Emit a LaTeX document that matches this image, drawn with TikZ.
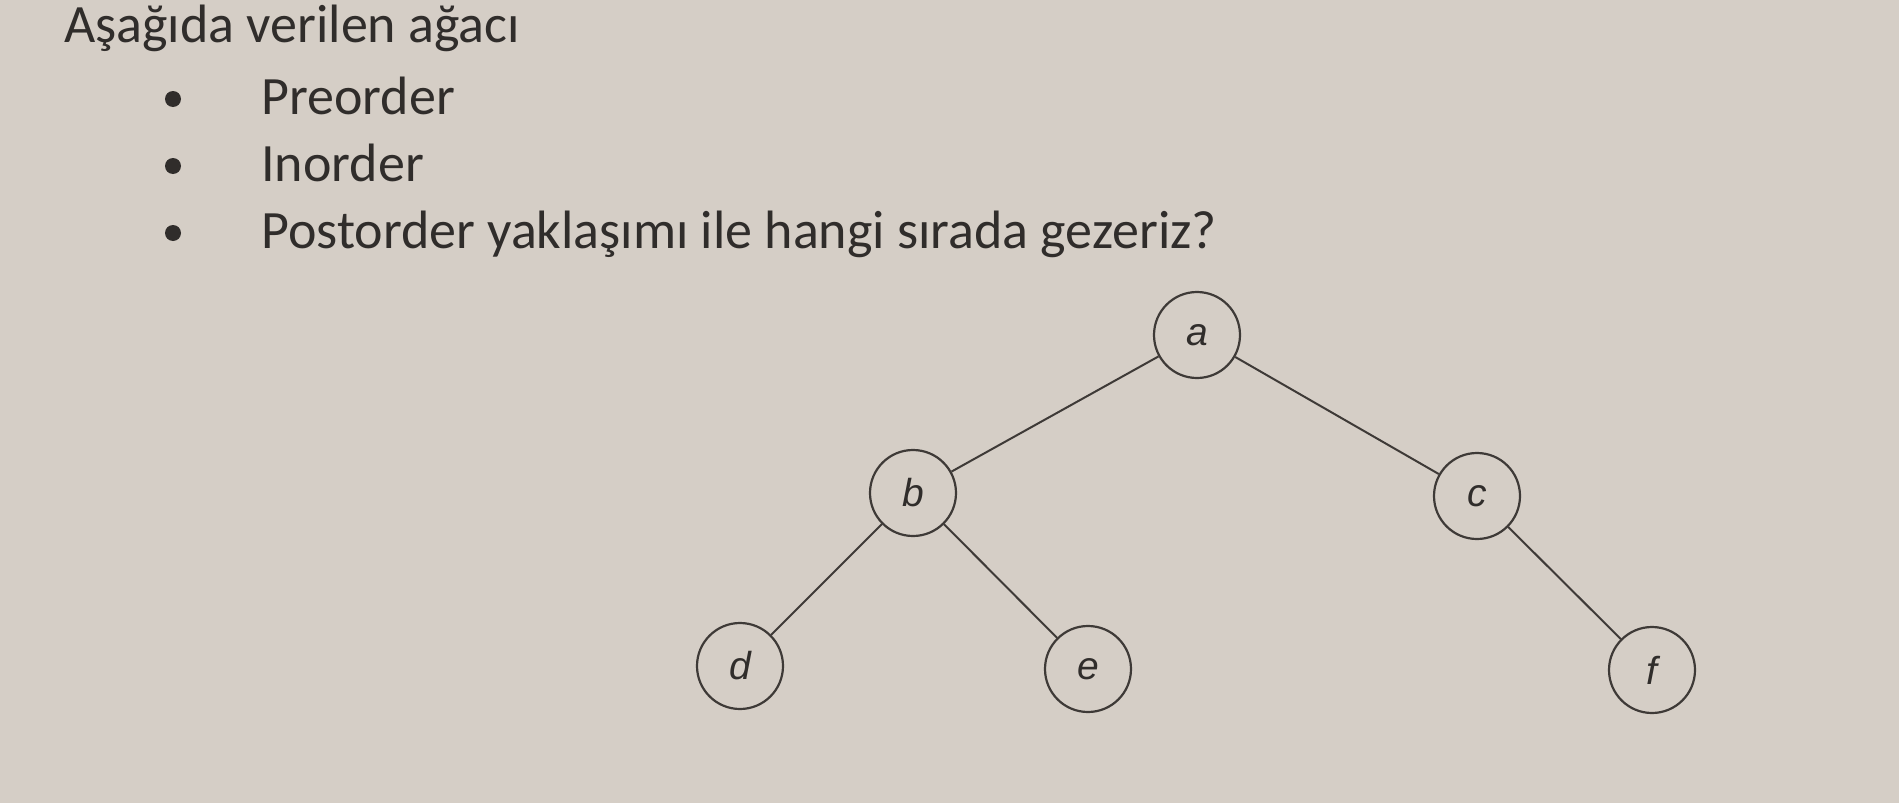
\documentclass[tikz,border=0pt]{standalone}
\usepackage{fontspec}
\setmainfont{Carlito}
\newfontfamily\nodefont{Liberation Sans}
\definecolor{paper}{RGB}{213,206,198}
\definecolor{ink}{RGB}{48,45,43}
\definecolor{lineink}{RGB}{62,58,55}
\begin{document}
\begin{tikzpicture}[x=1pt,y=-1pt,
  txt/.style={anchor=base west,inner sep=0pt,text=ink,font=\fontsize{54}{64}\selectfont},
  tnode/.style={circle,draw=lineink,line width=2.2pt,minimum size=86pt,inner sep=0pt,fill=paper,text=ink,font=\nodefont\itshape\fontsize{39}{44}\selectfont},
  edge/.style={draw=lineink,line width=2pt},
  dot/.style={circle,fill=ink,inner sep=0pt,minimum size=16pt}]
\fill[paper] (0,0) rectangle (1899,803);
\useasboundingbox (0,0) rectangle (1899,803);
\node[txt] (head) at (64,42) {Aşağıda verilen ağacı};
\node[dot] (b1) at (173,99) {};
\node[dot] (b2) at (173,166) {};
\node[dot] (b3) at (173,233) {};
\node[txt] (t1) at (261,114) {Preorder};
\node[txt] (t2) at (261,181) {Inorder};
\node[txt] (t3) at (261,248) {Postorder yaklaşımı ile hangi sırada gezeriz?};
\node[tnode] (a) at (1197,335) {a};
\node[tnode] (b) at (913,493) {b};
\node[tnode] (c) at (1477,496) {c};
\node[tnode] (d) at (740,666) {d};
\node[tnode] (e) at (1088,669) {e};
\node[tnode] (f) at (1652,670) {f};
\draw[edge] (a) -- (b);
\draw[edge] (a) -- (c);
\draw[edge] (b) -- (d);
\draw[edge] (b) -- (e);
\draw[edge] (c) -- (f);
\end{tikzpicture}
\end{document}
